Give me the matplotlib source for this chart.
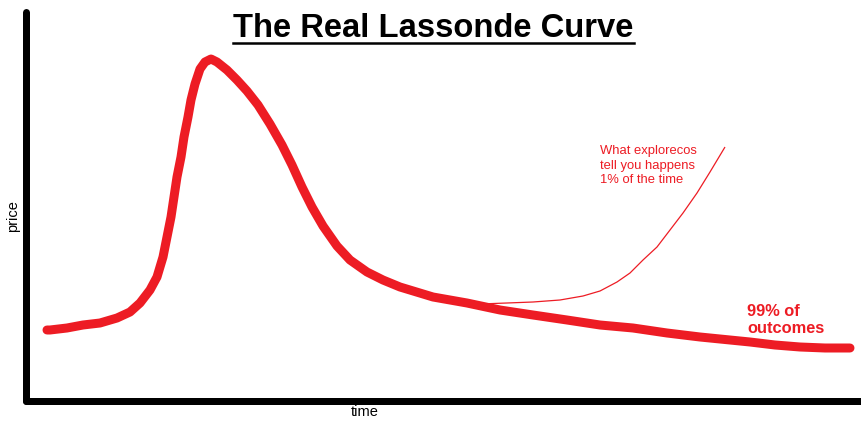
import matplotlib
matplotlib.use("Agg")
import matplotlib.pyplot as plt
from matplotlib.lines import Line2D

W, H, DPI = 861, 422, 100
RED = "#ED1C24"

# main ("99% of outcomes") curve: time and screen-height readings
time_main = [47, 50, 67, 83, 100, 117, 130, 140, 150, 157, 163, 167, 171, 174, 177,
             181, 184, 188, 191, 195, 200, 205, 211, 217, 227, 237, 247, 258, 270,
             282, 292, 302, 312, 323, 337, 350, 367, 383, 400, 433, 467, 500, 533,
             567, 600, 633, 667, 700, 750, 775, 800, 825, 850]
y_main_px = [330, 330, 328, 325, 323, 318, 312, 303, 290, 277, 257, 237, 217, 197, 177,
             157, 137, 117, 100, 84, 69, 62, 59, 62, 70, 80, 91, 105, 124,
             145, 165, 187, 207, 226, 246, 260, 272, 280, 287, 297, 303, 310, 315,
             320, 325, 328, 333, 337, 342, 345, 347, 348, 348]
# "1% of the time" branch
time_alt = [480, 507, 533, 560, 583, 600, 617, 630, 643, 657, 670, 683, 697, 710, 725]
y_alt_px = [304, 303, 302, 300, 296, 291, 282, 273, 260, 247, 230, 213, 193, 172, 147]

AXIS_Y = 401.0
price_main = [AXIS_Y - v for v in y_main_px]
price_alt = [AXIS_Y - v for v in y_alt_px]

title = "The Real Lassonde Curve"
note_alt = "What explorecos\ntell you happens\n1% of the time"
note_main = "99% of\noutcomes"
xlabel = "time"
ylabel = "price"

plt.rcParams['font.family'] = ['Liberation Sans', 'DejaVu Sans']

fig = plt.figure(figsize=(W / DPI, H / DPI), dpi=DPI)
left_px, top_px = 25.5, 12.0
ax = fig.add_axes([left_px / W, (H - AXIS_Y) / H, (W - left_px) / W, (AXIS_Y - top_px) / H])
ax.set_xlim(left_px, W)
ax.set_ylim(0, AXIS_Y - top_px)
for s in ("top", "right"):
    ax.spines[s].set_visible(False)
for s in ("left", "bottom"):
    ax.spines[s].set_linewidth(7 * 72 / DPI)
    ax.spines[s].set_color("black")
    ax.spines[s].set_capstyle("round")
ax.set_xticks([])
ax.set_yticks([])
ax.patch.set_alpha(0)

ax.plot(time_alt, price_alt, color=RED, lw=0.9, solid_capstyle="butt",
        solid_joinstyle="round", zorder=2)
ax.plot(time_main, price_main, color=RED, lw=9 * 72 / DPI, solid_capstyle="round",
        solid_joinstyle="round", zorder=3)

ax.text(600, AXIS_Y - 145, note_alt, color=RED, fontsize=9.4, va="top", ha="left",
        linespacing=1.3)
ax.text(747, AXIS_Y - 304, note_main, color=RED, fontsize=11.8, fontweight="bold",
        va="top", ha="left", linespacing=1.2)

fig.text(365 / W, 1 - 412 / H, xlabel, fontsize=10.5, ha="center", va="center")
fig.text(13 / W, 1 - 216 / H, ylabel, fontsize=10.5, ha="center", va="center",
         rotation=90)

t = fig.text(433.5 / W, 1 - 37 / H, title, fontsize=23.6, fontweight="bold",
             ha="center", va="baseline")
fig.canvas.draw()
bb = t.get_window_extent()
uy = 1 - 43 / H
fig.add_artist(Line2D([bb.x0 / W, bb.x1 / W], [uy, uy], color="black",
                      lw=2.5 * 72 / DPI, transform=fig.transFigure))

fig.savefig("out.png", dpi=DPI)
